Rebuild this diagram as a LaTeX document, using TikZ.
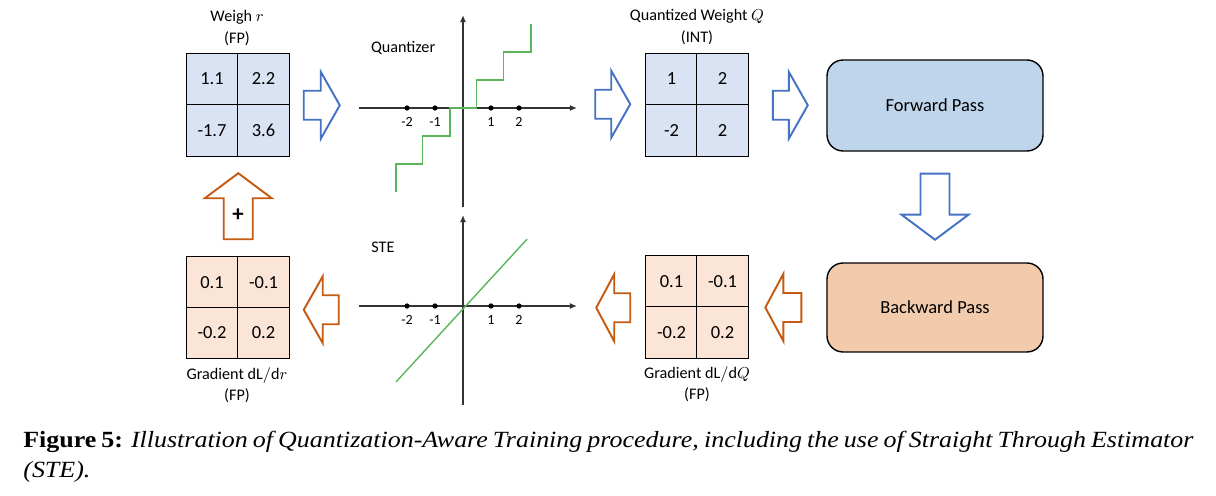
\documentclass[tikz,border=0pt]{standalone}
\usepackage{fontspec}
\setmainfont{Carlito}
\newfontfamily\capfont[FakeStretch=1.12]{Liberation Serif}
\usetikzlibrary{arrows.meta,calc}

\definecolor{matblue}{HTML}{DAE3F3}
\definecolor{matorange}{HTML}{FBE5D6}
\definecolor{fwdblue}{HTML}{BFD5EC}
\definecolor{bwdorange}{HTML}{F1CBAC}
\definecolor{arrblue}{HTML}{4472C4}
\definecolor{arrorange}{HTML}{C55A11}
\definecolor{plotgreen}{HTML}{5BB55B}
\definecolor{axisgray}{HTML}{333333}

\tikzset{
  cellb/.style={draw, fill=matblue, minimum size=1.03cm, inner sep=0pt, line width=0.6pt,
    font=\fontsize{10.5}{12}\selectfont},
  cello/.style={cellb, fill=matorange},
  passbox/.style={draw, rounded corners=0.32cm, minimum width=4.32cm, line width=0.8pt,
    font=\fontsize{10.5}{12}\selectfont},
  lbl/.style={align=center, font=\fontsize{9.2}{12}\selectfont},
  axis/.style={draw=axisgray, line width=0.8pt, -{Latex[length=4pt,width=3.5pt]}},
  tickdot/.style={fill=black, circle, inner sep=0pt, minimum size=3pt},
  ticklbl/.style={font=\fontsize{8}{9}\selectfont},
  stepline/.style={draw=plotgreen, line width=0.8pt},
  bluearr/.style={draw=arrblue, line width=1.1pt, fill=white},
  orangearr/.style={draw=arrorange, line width=1.1pt, fill=white},
  pics/fatarrow/.style n args={3}{code={
    \draw[#3] (0,-14.5) -- (#1-#2,-14.5) -- (#1-#2,-33.5) -- (#1,0)
      -- (#1-#2,33.5) -- (#1-#2,14.5) -- (0,14.5) -- cycle;
  }},
}

\begin{document}
\begin{tikzpicture}[x=0.02cm, y=-0.02cm]
\useasboundingbox (0,0) rectangle (1216,496);

% weights r and Q
\begin{scope}[every node/.style={cellb}]
  \node (r11) at (212,79)    {1.1};
  \node (r12) at (263.5,79)  {2.2};
  \node (r21) at (212,130.5)   {-1.7};
  \node (r22) at (263.5,130.5) {3.6};
  \node (q11) at (671.5,79)  {1};
  \node (q12) at (722.5,79)  {2};
  \node (q21) at (671.5,130.5) {-2};
  \node (q22) at (722.5,130.5) {2};
\end{scope}

% gradients
\begin{scope}[every node/.style={cello}]
  \node (gr11) at (212,282.5)   {0.1};
  \node (gr12) at (263.5,282.5) {-0.1};
  \node (gr21) at (212,333)     {-0.2};
  \node (gr22) at (263.5,333)   {0.2};
  \node (gq11) at (671.5,281.5) {0.1};
  \node (gq12) at (722.5,281.5) {-0.1};
  \node (gq21) at (671.5,332.5) {-0.2};
  \node (gq22) at (722.5,332.5) {0.2};
\end{scope}

\node[lbl] (rlabel)  at (237,28)  {Weigh $r$\\(FP)};
\node[lbl] (qlabel)  at (697,27)  {Quantized Weight $Q$\\(INT)};
\node[lbl] (grlabel) at (237,385) {Gradient $\mathrm{dL}/\mathrm{d}r$\\(FP)};
\node[lbl] (gqlabel) at (697,384) {Gradient $\mathrm{dL}/\mathrm{d}Q$\\(FP)};

\node[passbox, fill=fwdblue, minimum height=1.82cm]   (fwd) at (935,105.5) {Forward Pass};
\node[passbox, fill=bwdorange, minimum height=1.78cm] (bwd) at (935,307.5) {Backward Pass};

% quantizer
\coordinate (qo) at (463,108);
\begin{scope}[shift={(qo)}, x=0.56cm, y=0.56cm]
  \draw[axis] (-3.7,0) -- (4.07,0);
  \draw[axis] (0,-3.54) -- (0,3.32);
  \foreach \t in {-2,-1,1,2}
    \node[tickdot, label={[ticklbl]below:\t}] (qt\t) at (\t,0) {};
  \draw[stepline] (-2.4,-3) -- ++(0,1) -| (-1.45,-1) -| (-0.47,0)
    -| (0.49,1) -| (1.44,2) -| (2.43,3);
  \node[lbl] (qname) at (-2.14,2.14) {Quantizer};
\end{scope}

% straight through estimator
\coordinate (so) at (463,306);
\begin{scope}[shift={(so)}, x=0.56cm, y=0.56cm]
  \draw[axis] (-3.7,0) -- (4.07,0);
  \draw[axis] (0,-3.54) -- (0,3.25);
  \foreach \t in {-2,-1,1,2}
    \node[tickdot, label={[ticklbl]below:\t}] (st\t) at (\t,0) {};
  \draw[stepline] (-2.39,-2.71) -- (2.29,2.39);
  \node[lbl] (sname) at (-2.86,2.11) {STE};
\end{scope}

% block arrows
\pic at ($(r12.south east)+(14,0)$) {fatarrow={36}{19}{bluearr}};
\pic at ($(q21.north west)+(-50,0)$) {fatarrow={35}{19}{bluearr}};
\pic at ($(q12.south east)+(24,0)$) {fatarrow={35}{19}{bluearr}};
\pic[rotate=-90] at ($(fwd.south)+(0,22)$) {fatarrow={66}{25}{bluearr}};
\pic[rotate=180] at ($(bwd.west)+(-25,0)$) {fatarrow={36}{18}{orangearr}};
\pic[rotate=180] at ($(gq11.south west)+(-15,0)$) {fatarrow={34}{18}{orangearr}};
\pic[rotate=180] at ($(gr12.south east)+(49,1)$) {fatarrow={35}{19}{orangearr}};
\pic[rotate=90] at ($(gr11.north east)+(0,-17)$) {fatarrow={66}{25}{orangearr}};
\node[font=\fontsize{13}{14}\selectfont\bfseries] (plus) at (238,215) {+};

\node[anchor=base west, inner sep=0pt] (caption) at (23,447) {\parbox[t]{666pt}{%
  \capfont\fontsize{13.2}{17.2}\selectfont\textbf{Figure 5:} \textit{Illustration of
  Quantization-Aware Training procedure, including the use of Straight Through
  Estimator\linebreak (STE).}}};

\end{tikzpicture}
\end{document}
